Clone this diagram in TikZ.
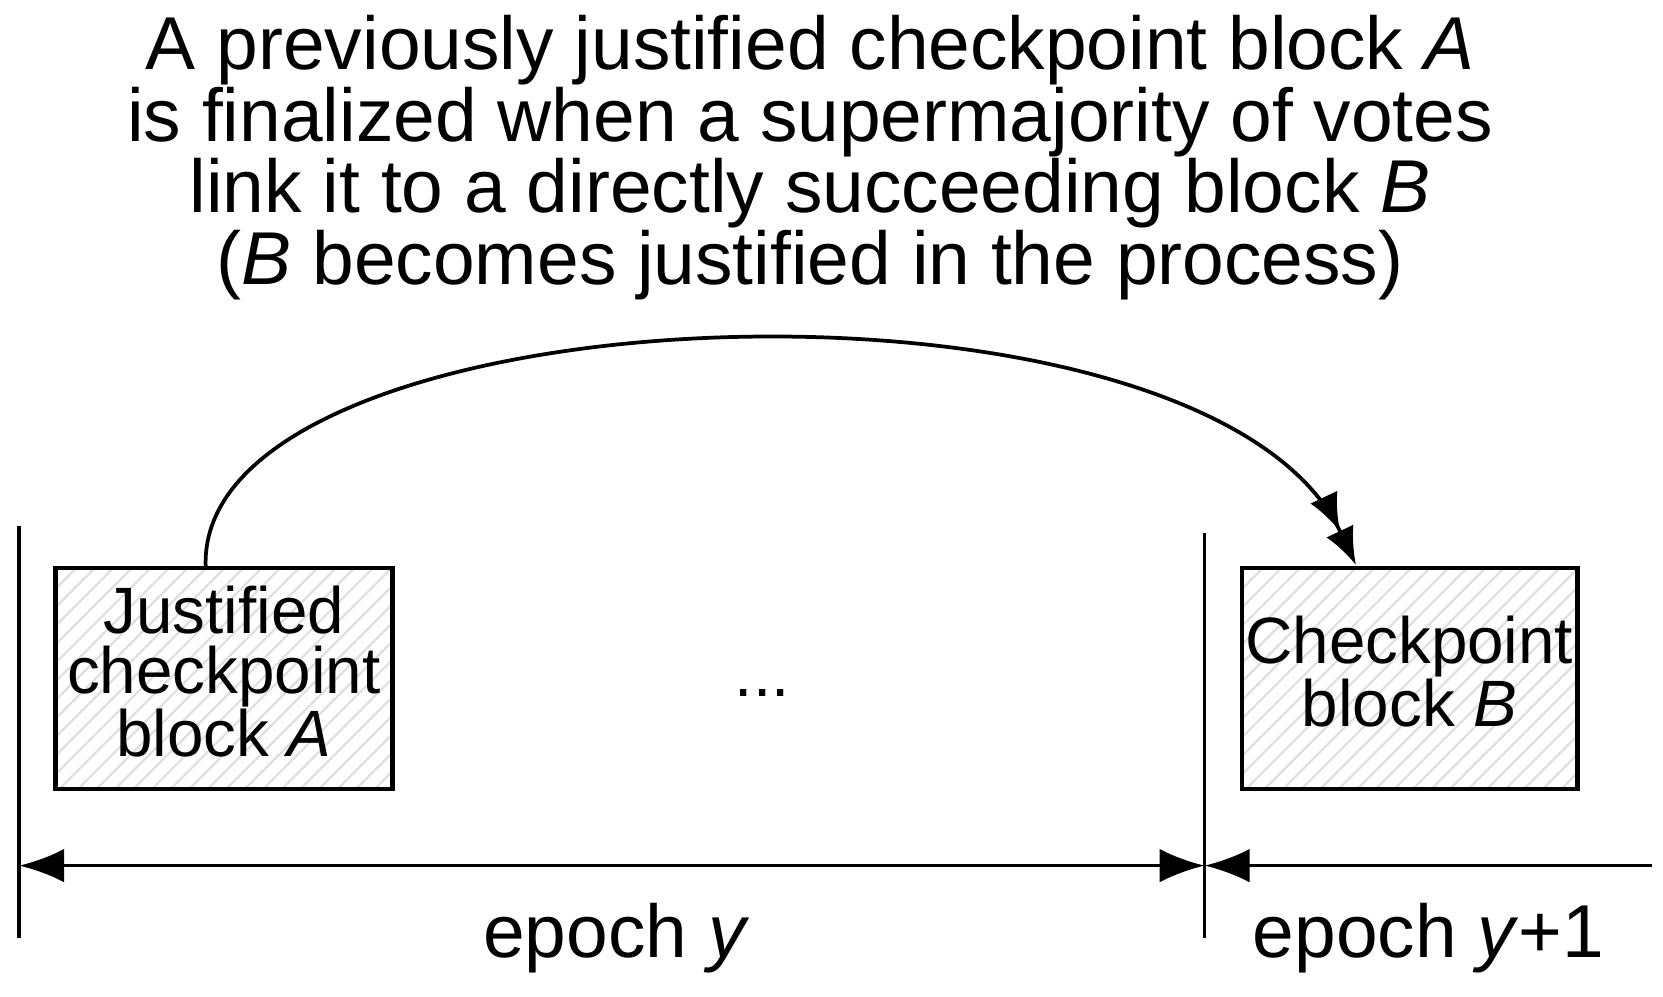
\documentclass[tikz,border=0pt]{standalone}
\usepackage{fontspec}
\setmainfont{Liberation Sans}
\usetikzlibrary{arrows.meta,patterns.meta}
\begin{document}
\begin{tikzpicture}[x=0.02cm,y=-0.02cm,
  big/.style={font=\fontsize{40}{36}\selectfont,align=center,inner sep=0pt},
  mid/.style={font=\fontsize{35}{32}\selectfont,align=center,inner sep=0pt},
  blk/.style={draw,line width=2.4pt,pattern={Lines[angle=45,distance=7pt,line width=1.2pt]},pattern color=gray!25},
  ln/.style={line width=2pt},
  tip/.style={-{Latex[length=22pt,width=16pt]}}]
\useasboundingbox (0,0) rectangle (1560,935);
\node[big] (title) at (760,148) {A previously justified checkpoint block \textit{A}\\is finalized when a supermajority of votes\\link it to a directly succeeding block \textit{B}\\(\textit{B} becomes justified in the process)};
\draw[blk] (52,533) rectangle (368,740);
\node[mid] (a) at (210,630) {Justified\\checkpoint\\block \textit{A}};
\draw[blk] (1165,533) rectangle (1480,740);
\node[mid] (b) at (1322,630) {Checkpoint\\block \textit{B}};
\node[mid] (dots) at (715,650) {...};
\coordinate (l0) at (18,493); \coordinate (l1) at (18,880);
\coordinate (m0) at (1130,500); \coordinate (m1) at (1130,880);
\draw[ln] (l0) -- (l1);
\draw[ln] (m0) -- (m1);
\coordinate (al) at (18,812); \coordinate (am) at (1130,812); \coordinate (ar) at (1550,812);
\draw[ln,{Latex[length=24pt,width=18pt]}-{Latex[length=24pt,width=18pt]}] (al) -- (am);
\draw[ln,{Latex[length=24pt,width=18pt]}-] (am) -- (ar);
\node[big] (ey) at (578,880) {epoch \textit{y}};
\node[big] (ey1) at (1340,880) {epoch \textit{y}+1};
\coordinate (s) at (193,533); \coordinate (e) at (1272,530);
\draw[ln,-{Latex[length=20pt,width=16pt]Latex[length=20pt,width=16pt]}] (s) .. controls (180,270) and (1130,230) .. (e);
\end{tikzpicture}
\end{document}
